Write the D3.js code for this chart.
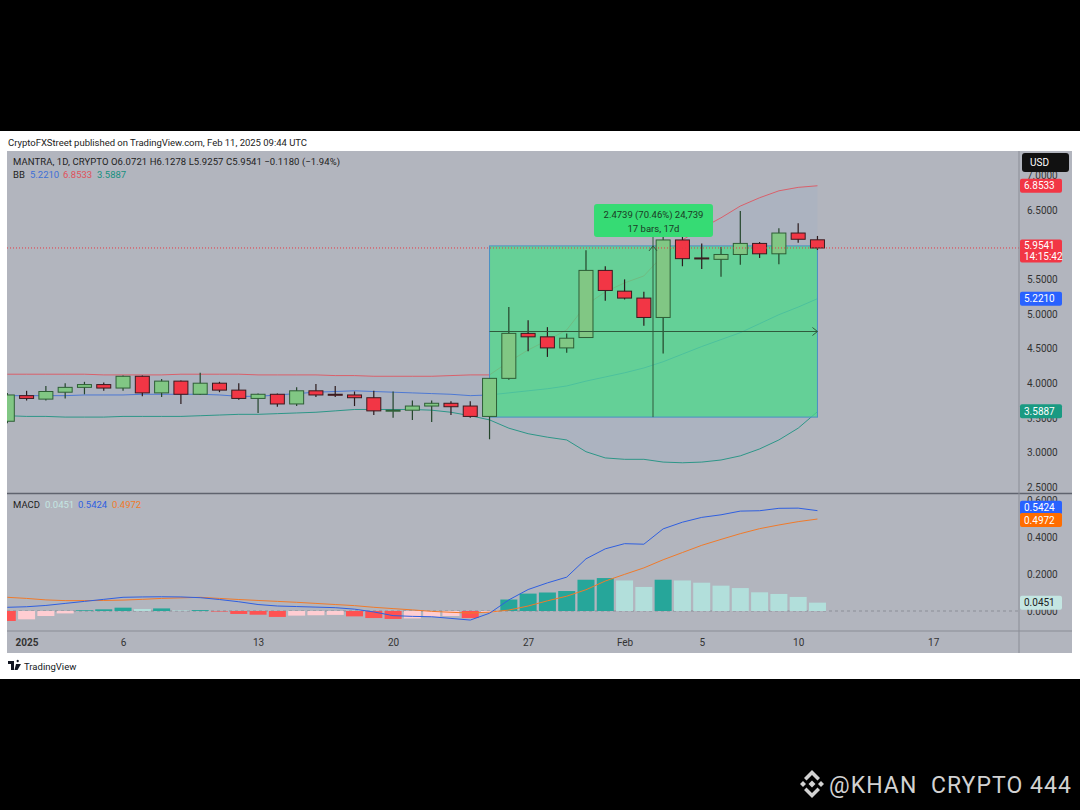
<!DOCTYPE html>
<html>
<head>
<meta charset="utf-8">
<script src="https://d3js.org/d3.v7.min.js"></script>
<style>
body{margin:0;background:#000}
svg{display:block}
text{font-family:Roboto,"Liberation Sans",sans-serif}
</style>
</head>
<body>
<svg id="chart" width="1080" height="810"></svg>
<script>
// daily candles, MANTRA 1D
const dates = ["2024-12-31","2025-01-01","2025-01-02","2025-01-03","2025-01-04","2025-01-05","2025-01-06","2025-01-07",
  "2025-01-08","2025-01-09","2025-01-10","2025-01-11","2025-01-12","2025-01-13","2025-01-14","2025-01-15","2025-01-16",
  "2025-01-17","2025-01-18","2025-01-19","2025-01-20","2025-01-21","2025-01-22","2025-01-23","2025-01-24","2025-01-25",
  "2025-01-26","2025-01-27","2025-01-28","2025-01-29","2025-01-30","2025-01-31","2025-02-01","2025-02-02","2025-02-03",
  "2025-02-04","2025-02-05","2025-02-06","2025-02-07","2025-02-08","2025-02-09","2025-02-10","2025-02-11"];
const open  = [3.45,3.82,3.77,3.87,3.94,3.98,3.93,4.10,3.86,4.03,3.84,4.00,3.90,3.78,3.84,3.70,3.89,3.84,3.83,3.79,3.60,3.61,
  3.67,3.71,3.67,3.52,4.07,4.72,4.67,4.51,4.66,5.63,5.33,5.23,4.95,6.07,5.81,5.79,5.86,6.02,5.87,6.17,6.0721];
const high  = [3.86,3.89,3.96,4.00,4.02,4.01,4.11,4.11,4.06,4.04,4.15,4.02,4.00,3.85,3.85,3.94,3.99,3.96,3.88,3.89,3.88,3.75,
  3.75,3.74,3.74,4.07,5.10,4.91,4.81,4.72,5.92,5.69,5.50,5.32,6.25,6.26,6.02,5.97,6.49,6.04,6.24,6.31,6.1278];
const low   = [3.42,3.75,3.75,3.78,3.84,3.89,3.89,3.81,3.80,3.70,3.83,3.87,3.76,3.57,3.66,3.67,3.80,3.80,3.67,3.54,3.50,3.47,
  3.44,3.54,3.50,3.19,4.05,4.46,4.38,4.44,4.66,5.19,5.21,4.83,4.43,5.69,5.65,5.54,5.71,5.81,5.72,6.03,5.9257];
const close = [3.83,3.78,3.88,3.94,3.98,3.93,4.10,3.86,4.03,3.84,4.00,3.90,3.78,3.84,3.70,3.89,3.83,3.83,3.79,3.60,3.61,3.67,
  3.71,3.66,3.52,4.07,4.72,4.67,4.51,4.65,5.63,5.34,5.23,4.95,6.07,5.80,5.80,5.86,6.02,5.87,6.17,6.08,5.9541];

// Bollinger Bands (20, 2)
const bbUpper  = [4.13,4.13,4.13,4.13,4.13,4.12,4.12,4.12,4.12,4.13,4.13,4.13,4.13,4.12,4.12,4.12,4.12,4.11,4.11,4.10,4.10,
  4.10,4.10,4.11,4.12,4.12,4.31,4.48,4.62,4.77,5.13,5.32,5.45,5.55,5.85,6.07,6.24,6.39,6.56,6.68,6.78,6.83,6.8533];
const bbMiddle = [3.82,3.82,3.82,3.82,3.83,3.83,3.83,3.84,3.84,3.84,3.84,3.83,3.81,3.81,3.83,3.85,3.87,3.88,3.89,3.88,3.87,
  3.86,3.85,3.84,3.82,3.83,3.86,3.89,3.92,3.96,4.03,4.09,4.15,4.22,4.31,4.42,4.53,4.63,4.73,4.86,4.99,5.10,5.2210];
const bbLower  = [3.53,3.52,3.52,3.51,3.51,3.51,3.52,3.52,3.52,3.52,3.53,3.54,3.55,3.55,3.56,3.57,3.58,3.60,3.62,3.62,3.62,
  3.62,3.61,3.58,3.53,3.47,3.35,3.27,3.22,3.18,3.01,2.92,2.90,2.90,2.86,2.85,2.86,2.89,2.95,3.05,3.18,3.35,3.5887];

// MACD (12, 26, 9)
const macdLine   = [0.020,0.023,0.030,0.041,0.052,0.063,0.074,0.076,0.077,0.076,0.072,0.062,0.050,0.035,0.027,0.024,0.021,
  0.018,0.010,-0.005,-0.025,-0.029,-0.031,-0.040,-0.049,-0.012,0.060,0.116,0.152,0.183,0.282,0.336,0.364,0.361,0.444,0.480,
  0.506,0.520,0.540,0.542,0.555,0.556,0.5424];
const signalLine = [0.074,0.068,0.060,0.056,0.056,0.057,0.059,0.063,0.068,0.071,0.074,0.068,0.062,0.057,0.052,0.047,0.041,
  0.035,0.029,0.020,0.013,0.006,-0.002,-0.007,-0.011,-0.006,0.005,0.027,0.055,0.080,0.115,0.162,0.198,0.233,0.277,0.316,
  0.355,0.387,0.418,0.445,0.465,0.483,0.4972];
const histogram  = [-0.054,-0.045,-0.027,-0.013,0.004,0.009,0.018,0.011,0.014,0.003,0.005,-0.003,-0.016,-0.020,-0.032,-0.025,
  -0.023,-0.021,-0.029,-0.038,-0.043,-0.040,-0.031,-0.027,-0.038,-0.006,0.062,0.094,0.100,0.108,0.169,0.178,0.165,0.130,
  0.169,0.165,0.153,0.137,0.124,0.101,0.092,0.076,0.0451];

const priceTicks = [2.5,3.0,3.5,4.0,4.5,5.0,5.5,6.0,6.5,7.0];
const macdTicks = [0,0.2,0.4,0.6];
const timeTicks = ["2025-01-01","2025-01-06","2025-01-13","2025-01-20","2025-01-27","2025-02-01","2025-02-05","2025-02-10","2025-02-17"];
const timeLabels = ["2025","6","13","20","27","Feb","5","10","17"];

// measured range drawing: from Jan 25 to Feb 11
const rangeStart = "2025-01-25", rangeEnd = "2025-02-11";
const rangeLow = 3.51, rangeHigh = 5.984;

const parse = d3.utcParse("%Y-%m-%d");
const data = dates.map((d, i) => ({date: parse(d), o: open[i], h: high[i], l: low[i], c: close[i],
  up: bbUpper[i], mid: bbMiddle[i], lo: bbLower[i], macd: macdLine[i], sig: signalLine[i], hist: histogram[i]}));

const svg = d3.select("#chart");
const L = 7, R = 1072, axisX = 1019;
const paneTop = 151, paneBot = 493, macdTop = 494, macdBot = 631, timeBot = 653;

const x = d3.scaleUtc().domain([parse("2024-12-31"), parse("2025-02-17")]).range([7.3, 933.2]);
const y = d3.scaleLinear().domain([2.5, 7]).range([487, 175.6]);
const ym = d3.scaleLinear().domain([0, 0.6]).range([611, 500]);

// page frame
svg.append("rect").attr("x", 0).attr("y", 0).attr("width", 1080).attr("height", 810).attr("fill", "#000");
svg.append("rect").attr("x", 0).attr("y", 131).attr("width", 1080).attr("height", 548).attr("fill", "#fff");
svg.append("rect").attr("x", L).attr("y", paneTop).attr("width", R - L).attr("height", timeBot - paneTop).attr("fill", "#b2b5be");

svg.append("text").attr("x", 8).attr("y", 146).attr("font-size", 9.5).attr("fill", "#222")
  .attr("textLength", 299).text("CryptoFXStreet published on TradingView.com, Feb 11, 2025 09:44 UTC");

const defs = svg.append("defs");
defs.append("clipPath").attr("id", "pclip").append("rect")
  .attr("x", L).attr("y", paneTop).attr("width", axisX - L).attr("height", paneBot - paneTop);
defs.append("clipPath").attr("id", "mclip").append("rect")
  .attr("x", L).attr("y", macdTop).attr("width", axisX - L).attr("height", macdBot - macdTop);

const price = svg.append("g").attr("clip-path", "url(#pclip)");

// Bollinger fill and lines
price.append("path").datum(data)
  .attr("d", d3.area().x(d => x(d.date)).y0(d => y(d.lo)).y1(d => y(d.up)))
  .attr("fill", "rgba(33,150,243,0.04)");
[["up", "#e0515c"], ["mid", "#3d6fd6"], ["lo", "#16907e"]].forEach(([k, col]) => {
  price.append("path").datum(data)
    .attr("d", d3.line().x(d => x(d.date)).y(d => y(d[k])))
    .attr("fill", "none").attr("stroke", col).attr("stroke-width", 1).attr("opacity", 0.85);
});

// range box
const bx0 = x(parse(rangeStart)), bx1 = x(parse(rangeEnd));
const by0 = y(rangeHigh), by1 = y(rangeLow);
price.append("rect").attr("x", bx0).attr("y", by0).attr("width", bx1 - bx0).attr("height", by1 - by0)
  .attr("fill", "#4cd98a").attr("fill-opacity", 0.75).attr("stroke", "#4a8fc4").attr("stroke-width", 1);

// candles
const bw = 14;
const cg = price.append("g").selectAll("g").data(data).join("g");
cg.append("line")
  .attr("x1", d => x(d.date)).attr("x2", d => x(d.date))
  .attr("y1", d => y(d.h)).attr("y2", d => y(d.l))
  .attr("stroke", d => d.c >= d.o ? "#24452b" : "#2b1a1c").attr("stroke-width", 1.2);
cg.append("rect")
  .attr("x", d => x(d.date) - bw / 2).attr("width", bw)
  .attr("y", d => y(Math.max(d.o, d.c)))
  .attr("height", d => Math.max(1, Math.abs(y(d.o) - y(d.c))))
  .attr("fill", d => d.c >= d.o ? "#81c784" : "#f23645")
  .attr("stroke", d => d.c >= d.o ? "#2e5e36" : "#3a1b1f").attr("stroke-width", 1);

// last price dotted line
price.append("line").attr("x1", L).attr("x2", axisX).attr("y1", y(close[close.length - 1])).attr("y2", y(close[close.length - 1]))
  .attr("stroke", "#e53945").attr("stroke-width", 1).attr("stroke-dasharray", "1,2");

// range arrows
const midX = (bx0 + bx1) / 2 - 0.5, midY = (by0 + by1) / 2;
const arrowCol = "#2f5a3c";
price.append("line").attr("x1", bx0).attr("x2", bx1).attr("y1", midY).attr("y2", midY)
  .attr("stroke", arrowCol).attr("stroke-width", 1);
price.append("path").attr("d", `M${bx1 - 5},${midY - 4}L${bx1},${midY}L${bx1 - 5},${midY + 4}`)
  .attr("fill", "none").attr("stroke", arrowCol).attr("stroke-width", 1);
price.append("line").attr("x1", midX).attr("x2", midX).attr("y1", by1).attr("y2", 237)
  .attr("stroke", arrowCol).attr("stroke-width", 1);
price.append("path").attr("d", `M${midX - 4},${by0 + 5}L${midX},${by0}L${midX + 4},${by0 + 5}`)
  .attr("fill", "none").attr("stroke", arrowCol).attr("stroke-width", 1);

// range label
const lab = price.append("g");
lab.append("rect").attr("x", 594).attr("y", 204).attr("width", 119).attr("height", 33).attr("rx", 3)
  .attr("fill", "#36db74");
lab.append("text").attr("x", 653.5).attr("y", 218).attr("text-anchor", "middle").attr("font-size", 9.5)
  .attr("fill", "#1b3a25").text("2.4739 (70.46%) 24,739");
lab.append("text").attr("x", 653.5).attr("y", 232).attr("text-anchor", "middle").attr("font-size", 9.5)
  .attr("fill", "#1b3a25").text("17 bars, 17d");

// legend
const lg = svg.append("g").attr("font-size", 9.5);
lg.append("text").attr("x", 13).attr("y", 165).attr("fill", "#222").attr("textLength", 327)
  .text("MANTRA, 1D, CRYPTO  O6.0721  H6.1278  L5.9257  C5.9541  \u22120.1180 (\u22121.94%)");
lg.append("text").attr("x", 13).attr("y", 178).attr("fill", "#222").text("BB");
lg.append("text").attr("x", 30).attr("y", 178).attr("fill", "#3d6fd6").text("5.2210");
lg.append("text").attr("x", 63).attr("y", 178).attr("fill", "#e0515c").text("6.8533");
lg.append("text").attr("x", 97).attr("y", 178).attr("fill", "#16907e").text("3.5887");

// MACD pane
const mp = svg.append("g").attr("clip-path", "url(#mclip)");
mp.append("line").attr("x1", L).attr("x2", axisX).attr("y1", ym(0)).attr("y2", ym(0))
  .attr("stroke", "#8b8e97").attr("stroke-dasharray", "3,3");
const histColor = (d, i) => {
  const prev = i > 0 ? histogram[i - 1] : d.hist;
  if (d.hist >= 0) return d.hist >= prev ? "#26a69a" : "#b2dfdb";
  return d.hist > prev ? "#ffcdd2" : "#ff5252";
};
const hw = 17;
mp.append("g").selectAll("rect").data(data).join("rect")
  .attr("x", d => x(d.date) - hw / 2).attr("width", hw)
  .attr("y", d => ym(Math.max(0, d.hist)))
  .attr("height", d => Math.abs(ym(d.hist) - ym(0)))
  .attr("fill", histColor);
mp.append("path").datum(data).attr("d", d3.line().x(d => x(d.date)).y(d => ym(d.sig)))
  .attr("fill", "none").attr("stroke", "#f07a2a").attr("stroke-width", 1);
mp.append("path").datum(data).attr("d", d3.line().x(d => x(d.date)).y(d => ym(d.macd)))
  .attr("fill", "none").attr("stroke", "#2f5fe0").attr("stroke-width", 1);

const ml = svg.append("g").attr("font-size", 9.5);
ml.append("text").attr("x", 13).attr("y", 508).attr("fill", "#222").text("MACD");
ml.append("text").attr("x", 45).attr("y", 508).attr("fill", "#c4e6e2").text("0.0451");
ml.append("text").attr("x", 78).attr("y", 508).attr("fill", "#2f5fe0").text("0.5424");
ml.append("text").attr("x", 112).attr("y", 508).attr("fill", "#f07a2a").text("0.4972");

// separators
svg.append("line").attr("x1", L).attr("x2", R).attr("y1", 493.5).attr("y2", 493.5).attr("stroke", "#5f636e").attr("stroke-width", 1.5);
svg.append("line").attr("x1", L).attr("x2", R).attr("y1", macdBot).attr("y2", macdBot).attr("stroke", "#8a8d96").attr("stroke-width", 1);
svg.append("line").attr("x1", axisX).attr("x2", axisX).attr("y1", paneTop).attr("y2", timeBot).attr("stroke", "#8a8d96").attr("stroke-width", 1);

// axes
const fmt = d3.format(".4f");
const pa = svg.append("g").attr("transform", `translate(${axisX},0)`)
  .call(d3.axisRight(y).tickValues(priceTicks).tickSize(0).tickPadding(8).tickFormat(fmt));
const ma = svg.append("g").attr("transform", `translate(${axisX},0)`)
  .call(d3.axisRight(ym).tickValues(macdTicks).tickSize(0).tickPadding(8).tickFormat(fmt));
const ta = svg.append("g").attr("transform", `translate(0,${macdBot})`)
  .call(d3.axisBottom(x).tickValues(timeTicks.map(parse)).tickSize(0).tickPadding(8)
    .tickFormat((d, i) => timeLabels[i]));
[pa, ma, ta].forEach(g => {
  g.select(".domain").remove();
  g.selectAll("text").attr("font-size", 10).attr("fill", "#333").attr("font-family", "Roboto, sans-serif");
});
ta.selectAll("text").filter((d, i) => i === 0).attr("font-weight", "bold");

// axis price tags
function tag(yv, txt, bg, fg, h) {
  const g = svg.append("g");
  g.append("rect").attr("x", 1020).attr("y", yv - h / 2).attr("width", 42).attr("height", h).attr("rx", 2).attr("fill", bg);
  const t = g.append("text").attr("x", 1024).attr("font-size", 10).attr("fill", fg);
  txt.forEach((s, i) => t.append("tspan").attr("x", 1024).attr("y", yv - (txt.length - 1) * 5.5 + i * 11 + 3.5).text(s));
  return g;
}
tag(y(bbUpper[42]), ["6.8533"], "#f23645", "#fff", 14);
tag(y(close[42]) + 3, ["5.9541", "14:15:42"], "#f23645", "#fff", 23);
tag(y(bbMiddle[42]), ["5.2210"], "#2962ff", "#fff", 14);
tag(y(bbLower[42]) - 0.5, ["3.5887"], "#1a9a82", "#fff", 14);
tag(ym(macdLine[42]) - 3, ["0.5424"], "#2962ff", "#fff", 14);
tag(ym(signalLine[42]) + 1, ["0.4972"], "#ff6d00", "#fff", 14);
tag(ym(histogram[42]), ["0.0451"], "#c4e6e2", "#222", 14);

// USD box
svg.append("rect").attr("x", 1022).attr("y", 153).attr("width", 47).attr("height", 19).attr("rx", 3).attr("fill", "#111");
svg.append("text").attr("x", 1030).attr("y", 166).attr("font-size", 10).attr("fill", "#fff").text("USD");

// TradingView footer
const tv = svg.append("g").attr("transform", "translate(8,661)");
tv.append("path").attr("d", "M0,0H6V9H3V3H0Z M6.5,0H8.5A1.2,1.2 0 1 1 8.5,0.1Z").attr("fill", "#131722");
tv.append("path").attr("d", "M8,3H13L9.5,9H6.5Z").attr("fill", "#131722");
svg.append("text").attr("x", 24).attr("y", 669.5).attr("font-size", 9.5).attr("fill", "#131722").text("TradingView");

// watermark
const wm = svg.append("g").attr("transform", "translate(812,784)").attr("fill", "#d2d2d2");
wm.append("path").attr("d", "M0,-3.5L3.5,0L0,3.5L-3.5,0Z");
wm.append("path").attr("d", "M-9,-3L-6,0L-9,3L-12,0Z");
wm.append("path").attr("d", "M9,-3L12,0L9,3L6,0Z");
wm.append("path").attr("d", "M0,-14L8,-6L5.5,-3.5L0,-9L-5.5,-3.5L-8,-6Z");
wm.append("path").attr("d", "M0,14L8,6L5.5,3.5L0,9L-5.5,3.5L-8,6Z");
svg.append("text").attr("x", 829).attr("y", 793).attr("font-size", 23).attr("fill", "#d2d2d2")
  .attr("font-family", "\"Open Sans\", sans-serif").attr("xml:space", "preserve")
  .attr("textLength", 242).text("@KHAN  CRYPTO 444");
</script>
</body>
</html>
